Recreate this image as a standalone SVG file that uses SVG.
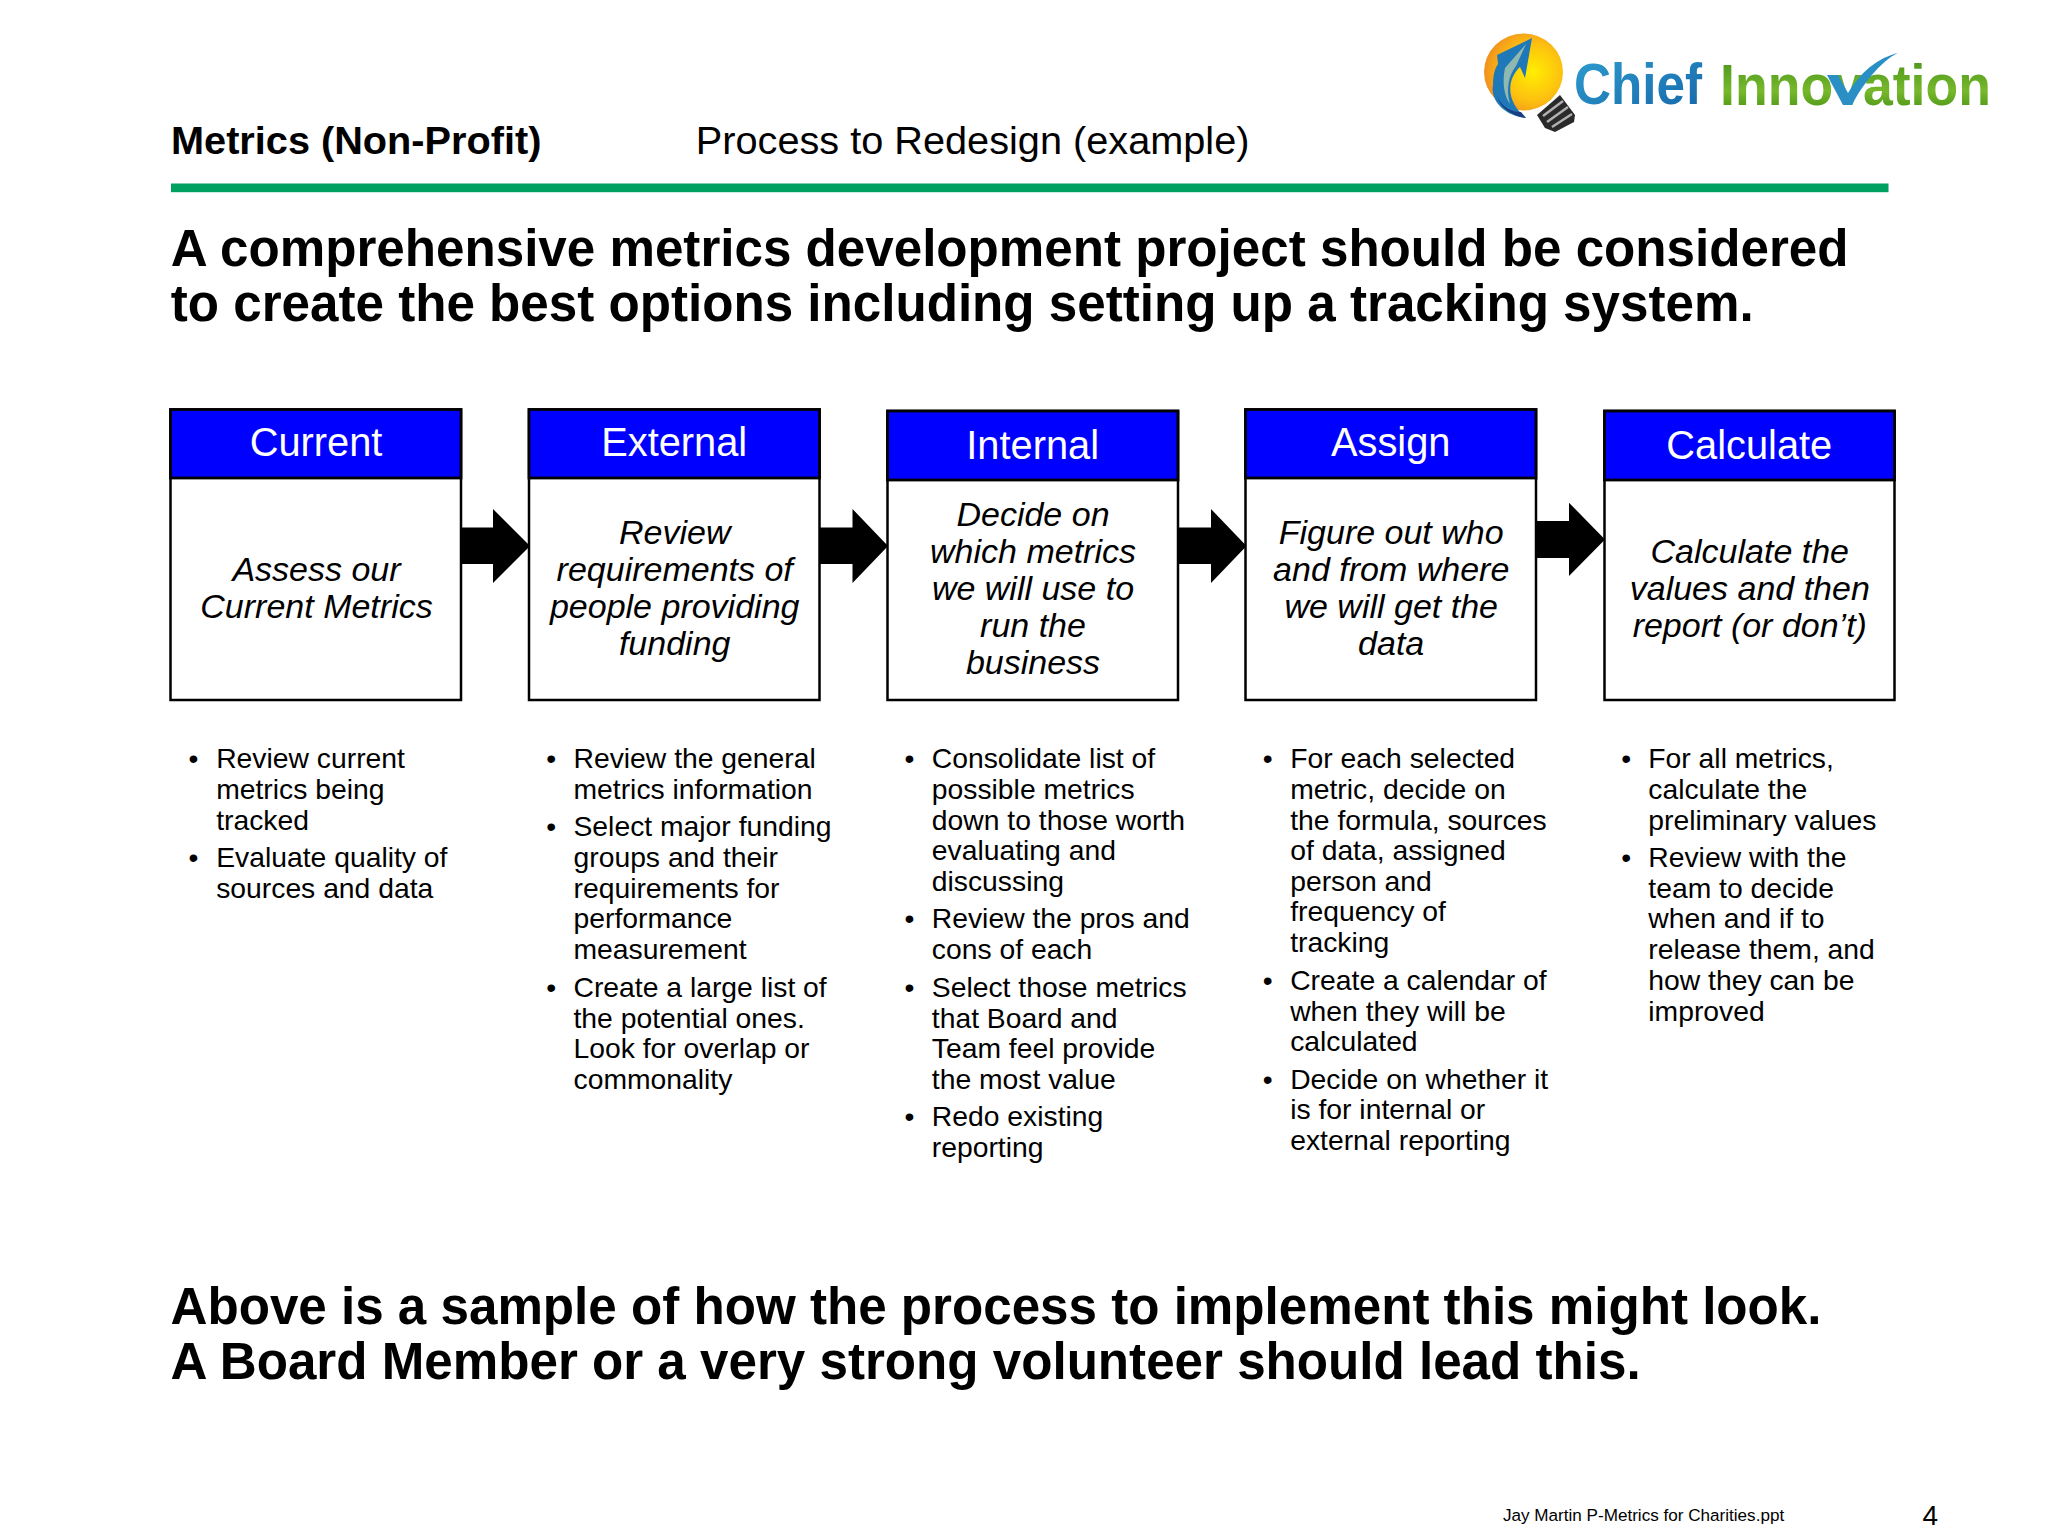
<svg xmlns="http://www.w3.org/2000/svg" width="2048" height="1536" viewBox="0 0 2048 1536">
<style>
text{font-family:"Liberation Sans",Arial,sans-serif;fill:#000}
.ttl{font-size:51.150px;font-weight:700}
.h1{font-size:39.700px}
.b{font-weight:700}
.box{fill:#fff;stroke:#000;stroke-width:2.500}
.hd{fill:#0000ff;stroke:#000;stroke-width:2.800}
.ht{font-size:39.800px;fill:#fff;text-anchor:middle}
.bt{font-size:34px;font-style:italic;text-anchor:middle}
.li{font-size:28.300px}
</style>
<defs>
<radialGradient id="bulb" cx="0.62" cy="0.5" r="0.62"><stop offset="0" stop-color="#ffee00"/><stop offset="0.6" stop-color="#fdc010"/><stop offset="1" stop-color="#f09020"/></radialGradient>
<linearGradient id="blu" x1="0" y1="0" x2="1" y2="1"><stop offset="0" stop-color="#2f9fd0"/><stop offset="1" stop-color="#1565a8"/></linearGradient>
<linearGradient id="grn" x1="0" y1="0" x2="0" y2="1"><stop offset="0" stop-color="#3f8f18"/><stop offset="0.6" stop-color="#78b82c"/><stop offset="1" stop-color="#3c8a10"/></linearGradient>
</defs>
<rect width="2048" height="1536" fill="#fff"/>
<g id="logo">
<path d="M1537 115L1560 95L1575 115L1574 122L1555 132L1545 128Z" fill="#2a2a2a"/>
<path d="M1543 116L1563 101M1547 122L1568 107M1552 127L1572 114" stroke="#b0b0b0" stroke-width="2.500" fill="none"/>
<ellipse cx="1523.500" cy="72" rx="39.500" ry="38.500" fill="url(#bulb)"/>
<path d="M1526 118C1504 116 1490 100 1493 85C1493 75 1495 68 1498 64L1497 55L1532 38L1525 78L1520 67C1508 78 1504 100 1526 118Z" fill="#1f78b8"/>
<path d="M1526 118C1512 116 1500 108 1497 96C1502 108 1512 112 1521 112Z" fill="#1a3f80"/>
<path d="M1526 44L1505 68C1502 82 1504 96 1510 104C1506 90 1508 76 1516 66Z" fill="#8fb8b0"/>
<text x="1574" y="104" font-size="58" font-weight="700" textLength="128" lengthAdjust="spacingAndGlyphs" style="fill:url(#blu)">Chief</text>
<text x="1720" y="105" font-size="58" font-weight="700" textLength="271" lengthAdjust="spacingAndGlyphs" style="fill:url(#grn)">Innovation</text>
<path d="M1827 75H1838L1848 93C1860 72 1878 58 1898 52.700C1880 62 1862 85 1852 105H1843Z" fill="#2a8fc4"/>
</g>
<g id="header">
<text class="h1 b" x="171" y="154">Metrics (Non-Profit)</text>
<text class="h1" x="695.800" y="154">Process to Redesign (example)</text>
<rect x="171" y="183.500" width="1717.500" height="8.700" fill="#00a060"/>
</g>
<g id="title">
<text class="ttl" x="170.800" y="266">A comprehensive metrics development project should be considered</text>
<text class="ttl" x="170.800" y="320.600">to create the best options including setting up a tracking system.</text>
</g>
<g id="connectors">
<path d="M461 527.500H493V509L530 546L493 583V564H461Z"/>
<path d="M819.500 527.500H852.500V509L888 546L852.500 583V564H819.500Z"/>
<path d="M1178 527.500H1211V509L1246.500 546L1211 583V564H1178Z"/>
<path d="M1536 521H1569V502.700L1605 539.500L1569 576V558H1536Z"/>
</g>
<g id="node-current">
<rect class="box" x="170.500" y="409.500" width="290.500" height="290.500"/>
<rect class="hd" x="170.500" y="409.500" width="290.500" height="68.500"/>
<text class="ht" x="316" y="456.300">Current</text>
<text class="bt" x="316.500" y="581">Assess our</text>
<text class="bt" x="316.500" y="618">Current Metrics</text>
<g transform="translate(-0.500 0.400)"><text class="li" x="189" y="767.700">•</text><text class="li" x="216.700" y="767.700">Review current</text><text class="li" x="216.700" y="798.300">metrics being</text><text class="li" x="216.700" y="829.300">tracked</text><text class="li" x="189" y="866.700">•</text><text class="li" x="216.700" y="866.700">Evaluate quality of</text><text class="li" x="216.700" y="897.300">sources and data</text></g>
</g>
<g id="node-external">
<rect class="box" x="529" y="409.500" width="290.500" height="290.500"/>
<rect class="hd" x="529" y="409.500" width="290.500" height="68.500"/>
<text class="ht" x="674.200" y="456.300">External</text>
<text class="bt" x="674.700" y="544">Review</text>
<text class="bt" x="674.700" y="581">requirements of</text>
<text class="bt" x="674.700" y="618">people providing</text>
<text class="bt" x="674.700" y="655">funding</text>
<g transform="translate(-0.500 0.400)"><text class="li" x="546.700" y="767.700">•</text><text class="li" x="574" y="767.700">Review the general</text><text class="li" x="574" y="798.300">metrics information</text><text class="li" x="546.700" y="836">•</text><text class="li" x="574" y="836">Select major funding</text><text class="li" x="574" y="866.700">groups and their</text><text class="li" x="574" y="897.300">requirements for</text><text class="li" x="574" y="928">performance</text><text class="li" x="574" y="959">measurement</text><text class="li" x="546.700" y="996.300">•</text><text class="li" x="574" y="996.300">Create a large list of</text><text class="li" x="574" y="1027.300">the potential ones.</text><text class="li" x="574" y="1058">Look for overlap or</text><text class="li" x="574" y="1088.300">commonality</text></g>
</g>
<g id="node-internal">
<rect class="box" x="887.500" y="411" width="290.500" height="289"/>
<rect class="hd" x="887.500" y="411" width="290.500" height="69"/>
<text class="ht" x="1032.700" y="458.500">Internal</text>
<text class="bt" x="1033" y="526.300">Decide on</text>
<text class="bt" x="1033" y="563.100">which metrics</text>
<text class="bt" x="1033" y="600">we will use to</text>
<text class="bt" x="1033" y="637">run the</text>
<text class="bt" x="1033" y="674">business</text>
<g transform="translate(-0.500 0.400)"><text class="li" x="905" y="767.700">•</text><text class="li" x="932.300" y="767.700">Consolidate list of</text><text class="li" x="932.300" y="798.300">possible metrics</text><text class="li" x="932.300" y="829.300">down to those worth</text><text class="li" x="932.300" y="860">evaluating and</text><text class="li" x="932.300" y="890.700">discussing</text><text class="li" x="905" y="928">•</text><text class="li" x="932.300" y="928">Review the pros and</text><text class="li" x="932.300" y="959">cons of each</text><text class="li" x="905" y="996.300">•</text><text class="li" x="932.300" y="996.300">Select those metrics</text><text class="li" x="932.300" y="1027.300">that Board and</text><text class="li" x="932.300" y="1058">Team feel provide</text><text class="li" x="932.300" y="1088.300">the most value</text><text class="li" x="905" y="1126">•</text><text class="li" x="932.300" y="1126">Redo existing</text><text class="li" x="932.300" y="1156.200">reporting</text></g>
</g>
<g id="node-assign">
<rect class="box" x="1245.500" y="409.500" width="290.500" height="290.500"/>
<rect class="hd" x="1245.500" y="409.500" width="290.500" height="68.500"/>
<text class="ht" x="1390.700" y="456.300">Assign</text>
<text class="bt" x="1391.200" y="544">Figure out who</text>
<text class="bt" x="1391.200" y="581">and from where</text>
<text class="bt" x="1391.200" y="618">we will get the</text>
<text class="bt" x="1391.200" y="655">data</text>
<g transform="translate(-0.500 0.400)"><text class="li" x="1263.300" y="767.700">•</text><text class="li" x="1290.700" y="767.700">For each selected</text><text class="li" x="1290.700" y="798.300">metric, decide on</text><text class="li" x="1290.700" y="829.300">the formula, sources</text><text class="li" x="1290.700" y="860">of data, assigned</text><text class="li" x="1290.700" y="890.700">person and</text><text class="li" x="1290.700" y="921">frequency of</text><text class="li" x="1290.700" y="951.700">tracking</text><text class="li" x="1263.300" y="989.300">•</text><text class="li" x="1290.700" y="989.300">Create a calendar of</text><text class="li" x="1290.700" y="1020.300">when they will be</text><text class="li" x="1290.700" y="1051">calculated</text><text class="li" x="1263.300" y="1088.300">•</text><text class="li" x="1290.700" y="1088.300">Decide on whether it</text><text class="li" x="1290.700" y="1119">is for internal or</text><text class="li" x="1290.700" y="1150">external reporting</text></g>
</g>
<g id="node-calculate">
<rect class="box" x="1604.500" y="411" width="290" height="289"/>
<rect class="hd" x="1604.500" y="411" width="290" height="69"/>
<text class="ht" x="1749.300" y="458.500">Calculate</text>
<text class="bt" x="1749.800" y="563.100">Calculate the</text>
<text class="bt" x="1749.800" y="600">values and then</text>
<text class="bt" x="1749.800" y="637">report (or don’t)</text>
<g transform="translate(0.300 0.400)"><text class="li" x="1621" y="767.700">•</text><text class="li" x="1648" y="767.700">For all metrics,</text><text class="li" x="1648" y="798.300">calculate the</text><text class="li" x="1648" y="829.300">preliminary values</text><text class="li" x="1621" y="866.700">•</text><text class="li" x="1648" y="866.700">Review with the</text><text class="li" x="1648" y="897.300">team to decide</text><text class="li" x="1648" y="928">when and if to</text><text class="li" x="1648" y="959">release them, and</text><text class="li" x="1648" y="989.300">how they can be</text><text class="li" x="1648" y="1020.300">improved</text></g>
</g>
<g id="footer">
<text class="ttl" x="170.500" y="1324">Above is a sample of how the process to implement this might look.</text>
<text class="ttl" x="170.500" y="1378.600">A Board Member or a very strong volunteer should lead this.</text>
<text x="1503" y="1520.700" font-size="17.100">Jay Martin P-Metrics for Charities.ppt</text>
<text x="1922.500" y="1525" font-size="28">4</text>
</g>
</svg>
